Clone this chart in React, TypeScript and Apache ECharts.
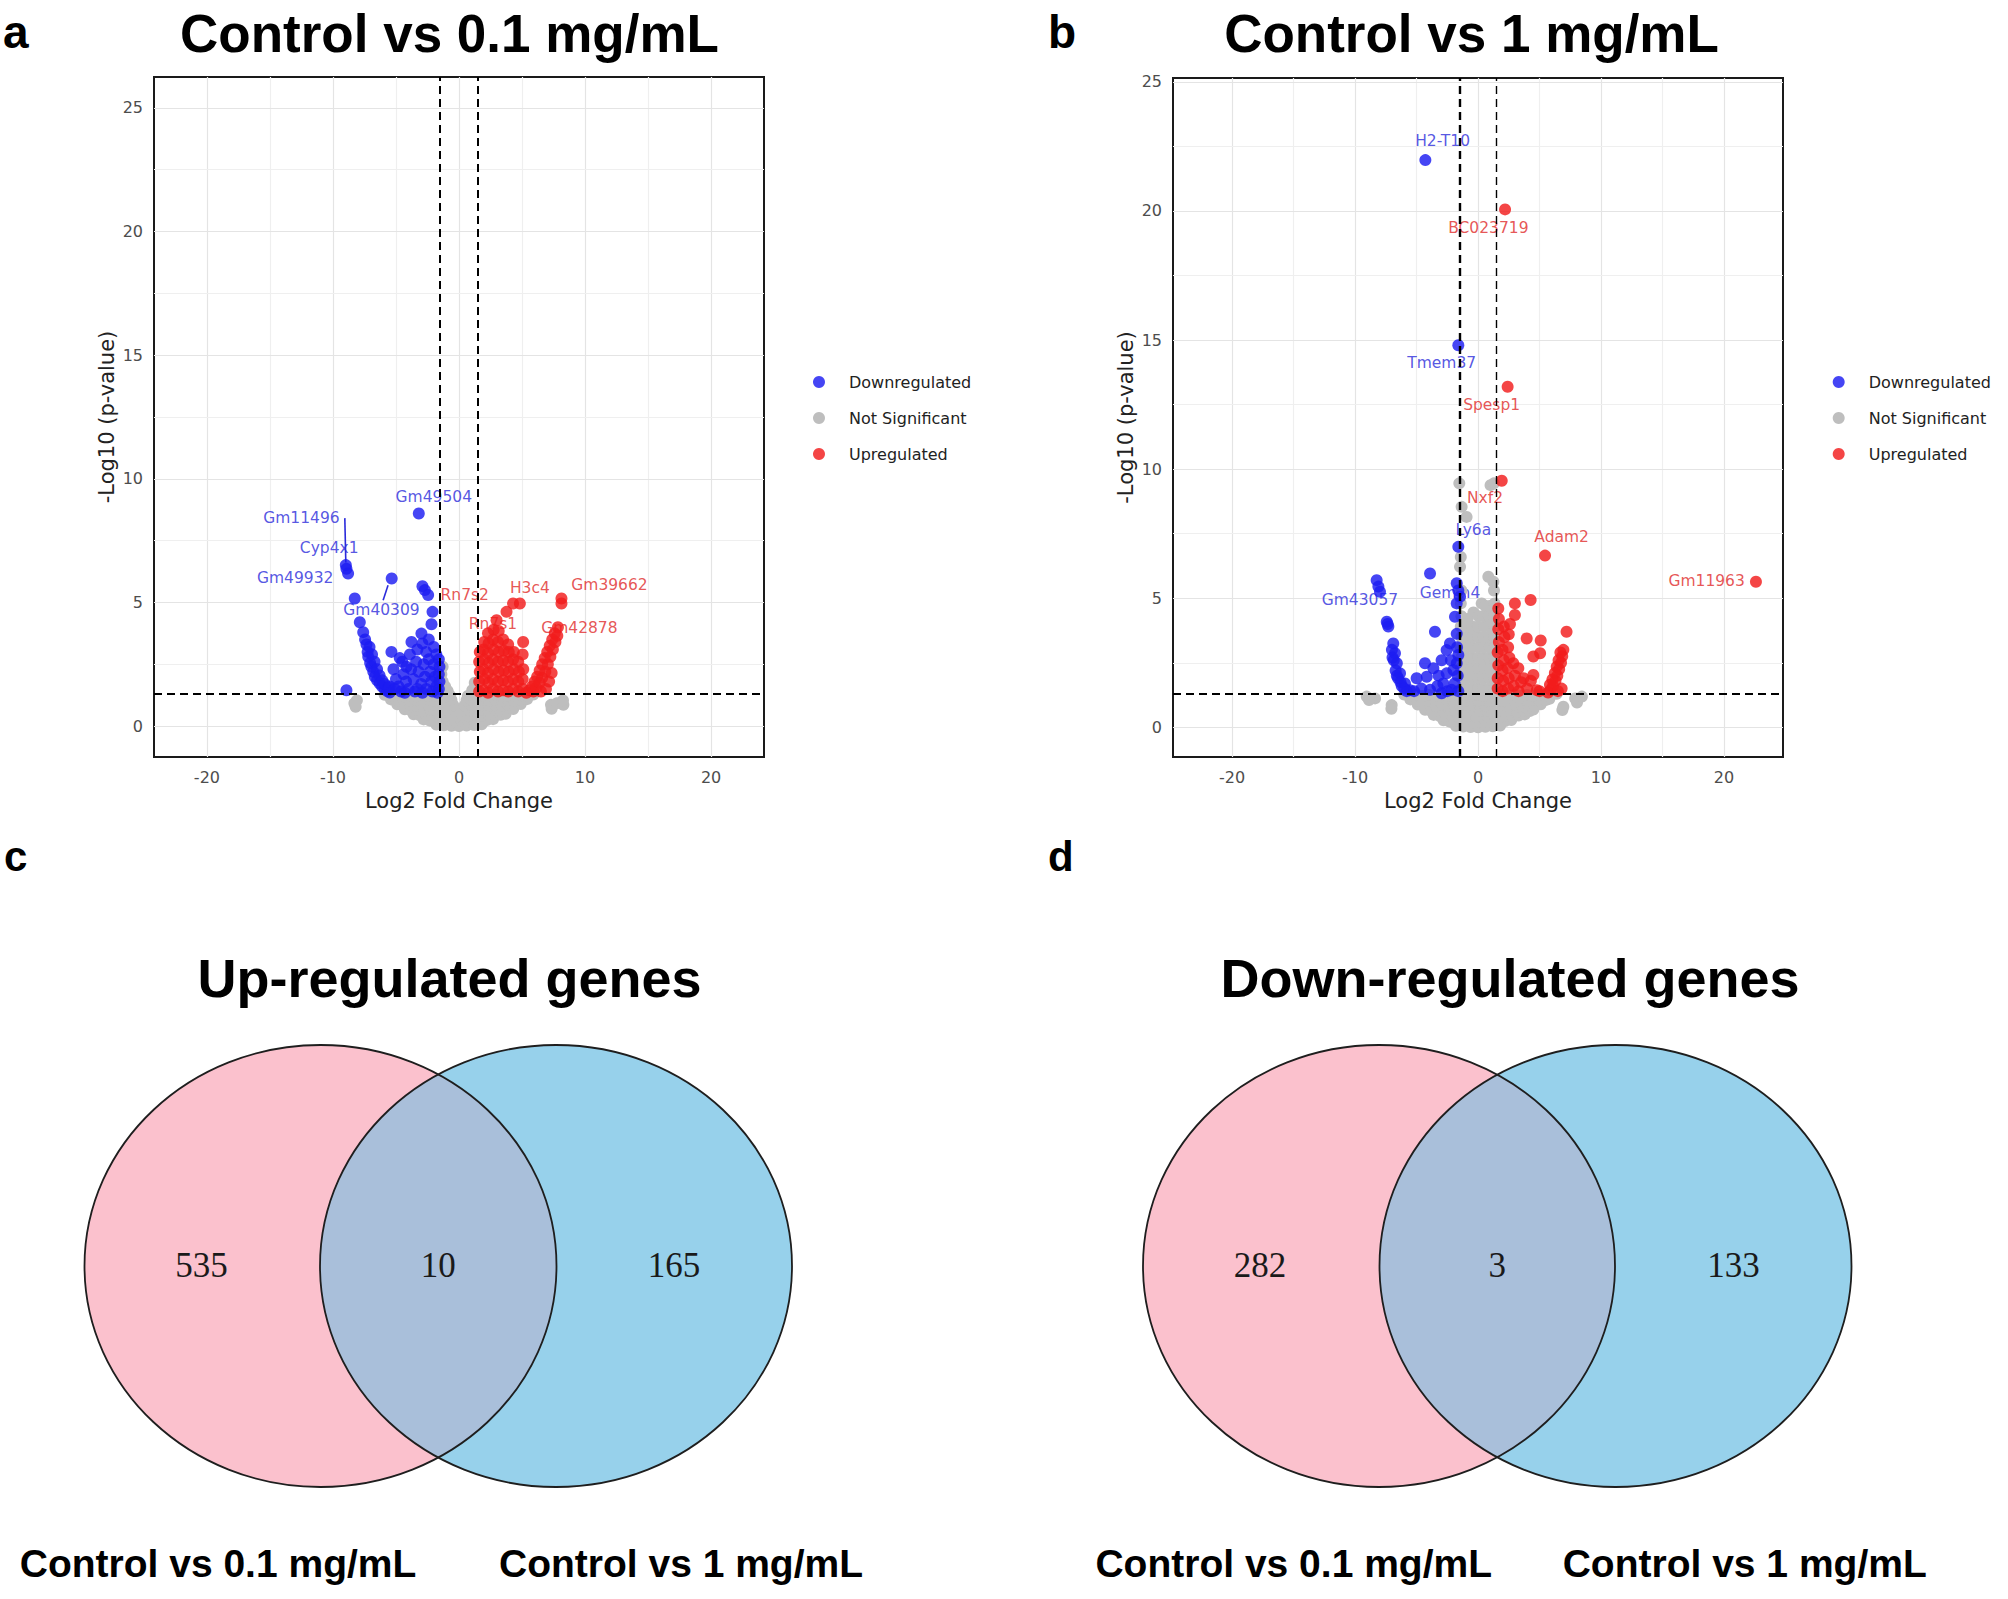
import React, { useEffect, useRef } from "react";
import * as echarts from "echarts";

const FONT = '"DejaVu Sans", sans-serif';
const BOLD = '"Liberation Sans", Arial, sans-serif';
const SERIF = '"Liberation Serif", "Times New Roman", serif';

// ---------- axes / thresholds ----------
const xTicks = [-20, -10, 0, 10, 20];
const yTicks = [0, 5, 10, 15, 20, 25];
const xGridLines = [-20, -15, -10, -5, 0, 5, 10, 15, 20];
const yGridLines = [0, 2.5, 5, 7.5, 10, 12.5, 15, 17.5, 20, 22.5, 25];
const fcCutoff = 1.5;
const pCutoff = 1.3;
const legendNames = ["Downregulated", "Not Significant", "Upregulated"];
const panelTitles = ["Control vs 0.1 mg/mL", "Control vs 1 mg/mL"];

// ---------- panel a : Control vs 0.1 mg/mL ----------
const down01 = [
  [-3.19, 8.6], [-8.98, 6.51], [-8.93, 6.36], [-8.8, 6.17], [-5.34, 5.97], [-8.27, 5.16],
  [-2.9, 5.66], [-2.71, 5.5], [-2.45, 5.3], [-2.1, 4.62], [-2.18, 4.12], [-8.93, 1.45],
  [-7.87, 4.2], [-7.6, 3.8], [-7.45, 3.5], [-7.34, 3.3], [-7.25, 3.0], [-7.2, 2.8], [-7.05, 2.55],
  [-6.95, 2.4], [-6.8, 2.2], [-6.68, 2.0], [-6.5, 1.85], [-6.29, 1.72], [-6.1, 1.6], [-5.89, 1.5],
  [-5.7, 1.42], [-5.5, 1.36], [-7.1, 3.2], [-6.9, 2.9], [-6.7, 2.6], [-6.5, 2.3], [-6.3, 2.05],
  [-6.1, 1.85], [-5.9, 1.7], [-5.6, 1.55],
  [-5.36, 3.0], [-4.7, 2.75], [-4.17, 2.4], [-3.77, 3.4], [-2.98, 3.74], [-2.9, 3.34], [-3.3, 3.1],
  [-2.6, 3.0], [-2.4, 3.5], [-2.0, 3.2], [-1.8, 2.9], [-1.6, 2.7], [-1.55, 2.4], [-1.6, 2.1],
  [-1.55, 1.8], [-1.6, 1.5], [-1.7, 1.35], [-5.2, 2.3], [-5.0, 1.9], [-4.8, 1.6], [-4.6, 1.4],
  [-4.4, 2.1], [-4.2, 1.8], [-4.0, 1.5], [-3.8, 2.3], [-3.6, 1.9], [-3.5, 1.4], [-3.4, 2.6],
  [-3.2, 2.2], [-3.0, 1.7], [-2.8, 2.5], [-2.7, 2.0], [-2.6, 1.5], [-2.4, 2.7], [-2.3, 2.2],
  [-2.2, 1.8], [-2.1, 1.4], [-2.0, 2.5], [-1.9, 2.0], [-1.8, 1.6], [-3.9, 2.9], [-4.5, 2.6],
  [-5.5, 1.6], [-5.1, 1.5], [-4.3, 1.35], [-3.3, 1.5], [-2.9, 1.35]
];
const ns01 = [
  [-1.8, 0.06], [-1.2, 0.03], [-0.6, 0.01], [0, 0], [0.6, 0.02], [1.2, 0.04], [1.8, 0.07],
  [-2.8, 0.27], [-2.3, 0.22], [-1.8, 0.25], [-1.3, 0.2], [-0.8, 0.24], [-0.3, 0.19], [0.2, 0.23],
  [0.7, 0.2], [1.2, 0.25], [1.7, 0.21], [2.2, 0.24], [2.7, 0.28],
  [-3.6, 0.48], [-3.1, 0.44], [-2.6, 0.47], [-2.1, 0.42], [-1.6, 0.46], [-1.1, 0.41], [-0.6, 0.45],
  [-0.15, 0.4], [0.3, 0.44], [0.8, 0.41], [1.3, 0.46], [1.8, 0.42], [2.3, 0.47], [2.8, 0.43],
  [3.3, 0.46], [3.7, 0.5],
  [-4.3, 0.68], [-3.8, 0.63], [-3.3, 0.66], [-2.8, 0.62], [-2.3, 0.67], [-1.8, 0.63], [-1.3, 0.66],
  [-0.8, 0.62], [-0.35, 0.65], [0.35, 0.64], [0.8, 0.67], [1.3, 0.62], [1.8, 0.66], [2.3, 0.63],
  [2.8, 0.67], [3.3, 0.62], [3.8, 0.66], [4.3, 0.69],
  [-4.9, 0.88], [-4.4, 0.83], [-3.9, 0.86], [-3.4, 0.82], [-2.9, 0.87], [-2.4, 0.83], [-1.9, 0.86],
  [-1.4, 0.82], [-0.9, 0.86], [-0.45, 0.84], [0.45, 0.83], [0.9, 0.87], [1.4, 0.82], [1.9, 0.86],
  [2.4, 0.83], [2.9, 0.87], [3.4, 0.82], [3.9, 0.86], [4.4, 0.84], [4.9, 0.89],
  [-5.4, 1.08], [-4.9, 1.03], [-4.4, 1.06], [-3.9, 1.02], [-3.4, 1.07], [-2.9, 1.03], [-2.4, 1.06],
  [-1.9, 1.02], [-1.4, 1.07], [-0.95, 1.03], [-0.6, 1.06], [0.6, 1.04], [0.95, 1.07], [1.4, 1.02],
  [1.9, 1.06], [2.4, 1.03], [2.9, 1.07], [3.4, 1.02], [3.9, 1.06], [4.4, 1.03], [4.9, 1.07], [5.4, 1.09],
  [-5.9, 1.27], [-5.4, 1.22], [-4.9, 1.26], [-4.4, 1.21], [-3.9, 1.25], [-3.4, 1.22], [-2.9, 1.26],
  [-2.4, 1.21], [-1.9, 1.25], [-1.4, 1.22], [-1.0, 1.26], [-0.7, 1.23], [0.7, 1.22], [1.0, 1.26],
  [1.4, 1.21], [1.9, 1.25], [2.4, 1.22], [2.9, 1.26], [3.4, 1.21], [3.9, 1.25], [4.4, 1.22],
  [4.9, 1.26], [5.4, 1.23], [5.9, 1.28],
  [-1.35, 1.5], [-1.3, 1.8], [-1.4, 2.1], [-1.3, 2.4], [-1.1, 1.6], [-0.9, 1.42], [1.35, 1.5],
  [1.25, 1.75], [1.05, 1.45],
  [-8.2, 0.78], [-8.1, 1.04], [-8.3, 0.92], [7.35, 0.7], [7.3, 0.86], [7.75, 0.92], [8.28, 0.86], [8.25, 1.04]
];
const up01 = [
  [4.29, 4.96], [4.83, 4.96], [3.77, 4.62], [2.98, 4.28], [8.13, 5.16], [8.13, 4.96], [5.09, 3.4],
  [1.6, 1.4], [1.6, 1.8], [1.65, 2.2], [1.6, 2.6], [1.65, 3.0],
  [1.95, 1.45], [2.0, 1.9], [1.95, 2.3], [2.0, 2.7], [1.95, 3.1], [2.0, 3.4],
  [2.3, 1.35], [2.35, 1.75], [2.3, 2.15], [2.35, 2.55], [2.3, 2.95], [2.35, 3.35], [2.3, 3.75],
  [2.7, 1.5], [2.7, 1.9], [2.75, 2.3], [2.7, 2.7], [2.75, 3.1], [2.7, 3.5], [2.75, 3.9],
  [3.1, 1.4], [3.1, 1.8], [3.15, 2.2], [3.1, 2.6], [3.15, 3.0], [3.1, 3.4], [3.15, 3.85],
  [3.5, 1.45], [3.5, 1.85], [3.55, 2.25], [3.5, 2.65], [3.55, 3.05], [3.5, 3.5],
  [3.9, 1.4], [3.9, 1.8], [3.95, 2.2], [3.9, 2.6], [3.95, 3.0], [3.9, 3.3],
  [4.3, 1.5], [4.3, 1.9], [4.35, 2.3], [4.3, 2.7], [4.35, 3.0],
  [4.7, 1.4], [4.7, 1.8], [4.75, 2.2], [4.7, 2.6],
  [5.05, 1.5], [5.05, 1.9], [5.1, 2.3], [5.05, 2.9],
  [5.35, 1.35], [5.6, 1.45], [5.8, 1.6], [6.0, 1.8], [6.2, 2.0], [6.4, 2.25], [6.6, 2.5], [6.8, 2.75],
  [7.0, 3.0], [7.2, 3.25], [7.4, 3.5], [7.6, 3.75], [7.85, 4.0], [5.9, 1.4], [6.15, 1.55], [6.4, 1.75],
  [6.6, 1.95], [6.85, 2.2], [7.05, 2.5], [7.25, 2.8], [7.45, 3.1], [7.65, 3.4], [7.8, 3.65],
  [6.9, 1.5], [7.15, 1.8], [7.35, 2.15], [6.5, 1.4]
];
const labelsDown01 = [
  [-2.0, 9.28, "Gm49504"], [-12.5, 8.4, "Gm11496"], [-10.3, 7.19, "Cyp4x1"],
  [-13.0, 5.97, "Gm49932"], [-6.15, 4.69, "Gm40309"]
];
const labelsUp01 = [
  [0.46, 5.3, "Rn7s2"], [5.62, 5.57, "H3c4"], [11.94, 5.72, "Gm39662"],
  [2.7, 4.12, "Rn7s1"], [9.55, 3.95, "Gm42878"]
];
const connectors01 = [
  [[-9.06, 8.41], [-8.98, 6.62]],
  [[-5.63, 5.7], [-6.02, 5.09]]
];

// ---------- panel b : Control vs 1 mg/mL ----------
const down1 = [
  [-4.28, 21.97], [-1.6, 14.8], [-1.6, 6.99], [-8.24, 5.7], [-8.1, 5.45], [-7.97, 5.25], [-3.9, 5.96],
  [-1.73, 5.58], [-1.6, 5.3], [-1.46, 5.06], [-1.73, 4.8], [-1.87, 4.28], [-3.5, 3.7], [-1.73, 3.62],
  [-7.42, 4.09], [-7.29, 3.9], [-7.35, 4.0],
  [-6.89, 3.25], [-6.75, 2.87], [-6.6, 2.48], [-6.34, 2.09], [-5.94, 1.7], [-5.53, 1.44], [-7.0, 3.0],
  [-6.85, 2.6], [-6.7, 2.2], [-6.5, 1.9], [-6.2, 1.6], [-5.8, 1.4], [-6.95, 2.7], [-6.6, 2.0],
  [-6.3, 1.75], [-6.0, 1.5],
  [-4.31, 2.48], [-3.63, 2.29], [-2.96, 2.6], [-2.55, 2.99], [-2.28, 3.25], [-2.0, 2.22], [-2.82, 1.7],
  [-4.17, 1.96], [-4.99, 1.9], [-2.96, 1.32], [-2.14, 1.45], [-1.73, 2.48], [-2.55, 2.09], [-4.6, 1.5],
  [-3.9, 1.45], [-3.3, 1.6], [-2.5, 1.4], [-1.9, 1.7], [-1.65, 2.0], [-1.6, 2.8], [-1.7, 3.1],
  [-2.2, 2.6], [-3.2, 2.0], [-5.2, 1.4], [-1.6, 1.4]
];
const ns1 = [
  [-1.8, 0.06], [-1.2, 0.03], [-0.6, 0.01], [0, 0], [0.6, 0.02], [1.2, 0.04], [1.8, 0.07],
  [-2.8, 0.27], [-2.3, 0.22], [-1.8, 0.25], [-1.3, 0.2], [-0.8, 0.24], [-0.3, 0.19], [0.2, 0.23],
  [0.7, 0.2], [1.2, 0.25], [1.7, 0.21], [2.2, 0.24], [2.7, 0.28],
  [-3.6, 0.48], [-3.1, 0.44], [-2.6, 0.47], [-2.1, 0.42], [-1.6, 0.46], [-1.1, 0.41], [-0.6, 0.45],
  [-0.15, 0.4], [0.3, 0.44], [0.8, 0.41], [1.3, 0.46], [1.8, 0.42], [2.3, 0.47], [2.8, 0.43],
  [3.3, 0.46], [3.8, 0.5],
  [-4.3, 0.68], [-3.8, 0.63], [-3.3, 0.66], [-2.8, 0.62], [-2.3, 0.67], [-1.8, 0.63], [-1.3, 0.66],
  [-0.8, 0.62], [-0.3, 0.65], [0.2, 0.63], [0.7, 0.66], [1.2, 0.62], [1.7, 0.66], [2.2, 0.63],
  [2.7, 0.67], [3.2, 0.62], [3.7, 0.66], [4.2, 0.63], [4.5, 0.69],
  [-4.9, 0.88], [-4.4, 0.83], [-3.9, 0.86], [-3.4, 0.82], [-2.9, 0.87], [-2.4, 0.83], [-1.9, 0.86],
  [-1.4, 0.82], [-0.9, 0.86], [-0.4, 0.84], [0.1, 0.87], [0.6, 0.83], [1.1, 0.86], [1.6, 0.82],
  [2.1, 0.87], [2.6, 0.83], [3.1, 0.86], [3.6, 0.82], [4.1, 0.87], [4.6, 0.83], [5.1, 0.89],
  [-5.5, 1.08], [-5.0, 1.03], [-4.5, 1.06], [-4.0, 1.02], [-3.5, 1.07], [-3.0, 1.03], [-2.5, 1.06],
  [-2.0, 1.02], [-1.5, 1.07], [-1.0, 1.03], [-0.5, 1.06], [0, 1.04], [0.5, 1.07], [1.0, 1.02],
  [1.5, 1.06], [2.0, 1.03], [2.5, 1.07], [3.0, 1.02], [3.5, 1.06], [4.0, 1.03], [4.5, 1.07],
  [5.0, 1.04], [5.5, 1.06], [5.8, 1.1],
  [-6.0, 1.27], [-5.5, 1.22], [-5.0, 1.26], [-4.5, 1.21], [-4.0, 1.25], [-3.5, 1.22], [-3.0, 1.26],
  [-2.5, 1.21], [-2.0, 1.25], [-1.5, 1.22], [-1.0, 1.26], [-0.5, 1.23], [0, 1.25], [0.5, 1.22],
  [1.0, 1.26], [1.5, 1.21], [2.0, 1.25], [2.5, 1.22], [3.0, 1.26], [3.5, 1.21], [4.0, 1.25],
  [4.5, 1.22], [5.0, 1.26], [5.5, 1.23], [6.0, 1.27], [6.4, 1.3],
  [-1.35, 1.5], [-1.35, 1.9], [-1.4, 2.3], [-1.35, 2.7], [-1.4, 3.1], [-1.35, 3.5], [-1.4, 3.9],
  [-1.35, 4.3], [-1.4, 4.8], [-1.35, 5.3], [-1.46, 6.22], [-1.4, 6.6], [-1.33, 8.54], [-0.93, 8.15],
  [-1.52, 9.45],
  [-0.9, 1.5], [-0.9, 1.9], [-0.95, 2.3], [-0.9, 2.7], [-0.95, 3.1], [-0.9, 3.5], [-0.9, 3.9], [-0.85, 4.2],
  [-0.45, 1.5], [-0.45, 1.9], [-0.5, 2.3], [-0.45, 2.7], [-0.5, 3.1], [-0.45, 3.5], [-0.45, 3.9], [-0.37, 4.45],
  [0, 1.5], [0, 1.9], [0.05, 2.3], [0, 2.7], [0.05, 3.1], [0, 3.5], [0, 3.9], [0.05, 4.3], [0.3, 4.8],
  [0.45, 1.5], [0.45, 1.9], [0.5, 2.3], [0.45, 2.7], [0.5, 3.1], [0.45, 3.5], [0.5, 3.9], [0.45, 4.3], [0.6, 4.7],
  [0.9, 1.5], [0.9, 1.9], [0.95, 2.3], [0.9, 2.7], [0.95, 3.1], [0.9, 3.5], [0.95, 3.9], [0.9, 4.3],
  [0.95, 4.7], [0.84, 5.83],
  [1.3, 1.5], [1.3, 1.9], [1.35, 2.3], [1.3, 2.7], [1.35, 3.1], [1.3, 3.5], [1.35, 3.9], [1.3, 4.3],
  [1.35, 4.8], [1.3, 5.3], [1.25, 5.64], [1.02, 9.38], [1.29, 9.45],
  [-9.05, 1.19], [-8.37, 1.12], [-8.86, 1.06], [-7.02, 0.86], [-7.04, 0.72], [6.86, 0.67], [6.94, 0.8],
  [7.9, 1.12], [8.05, 0.96], [8.45, 1.19]
];
const up1 = [
  [2.2, 20.06], [2.41, 13.19], [1.93, 9.55], [5.45, 6.65], [22.6, 5.64],
  [3.0, 4.8], [4.28, 4.93], [3.0, 4.35], [7.2, 3.7], [3.96, 3.44], [5.1, 3.36], [5.05, 2.87], [4.5, 2.74],
  [3.28, 2.29], [3.7, 1.9], [4.5, 2.03], [2.87, 2.48], [4.78, 1.44],
  [1.6, 1.5], [1.6, 1.9], [1.65, 2.4], [1.6, 2.9], [1.7, 3.3], [1.65, 3.8], [1.7, 4.2], [2.0, 1.4],
  [2.05, 1.8], [2.0, 2.2], [2.1, 2.6], [2.0, 3.0], [2.15, 3.5], [2.1, 3.9], [2.45, 1.5], [2.5, 1.9],
  [2.4, 2.3], [2.55, 2.7], [2.45, 3.1], [2.5, 3.6], [2.9, 1.6], [3.0, 2.0], [3.3, 1.4], [3.5, 1.75],
  [4.0, 1.5], [4.3, 1.8], [5.0, 1.4], [2.6, 4.0], [1.65, 4.6],
  [6.94, 3.0], [6.85, 2.75], [6.75, 2.5], [6.6, 2.25], [6.45, 2.0], [6.3, 1.8], [6.1, 1.6], [5.9, 1.45],
  [5.7, 1.35], [6.7, 2.9], [6.55, 2.6], [6.4, 2.35], [6.25, 2.1], [6.05, 1.85], [5.85, 1.65],
  [6.8, 1.5], [6.5, 1.4]
];
const labelsDown1 = [
  [-2.88, 22.7, "H2-T10"], [-2.95, 14.1, "Tmem37"], [-0.38, 7.64, "Ly6a"],
  [-9.6, 4.93, "Gm43057"], [-2.28, 5.19, "Gemin4"]
];
const labelsUp1 = [
  [0.84, 19.33, "BC023719"], [1.11, 12.48, "Spesp1"], [0.57, 8.87, "Nxf2"],
  [6.8, 7.36, "Adam2"], [18.59, 5.68, "Gm11963"]
];
const connectors1: number[][][] = [];

// ---------- Venn panels ----------
const vennSetNames = ["Control vs 0.1 mg/mL", "Control vs 1 mg/mL"];
const vennTitles = ["Up-regulated genes", "Down-regulated genes"];
const vennUpCounts = [535, 10, 165]; // only 0.1, both, only 1
const vennDownCounts = [282, 3, 133];

const BLUE = "#1C1CF2";
const RED = "#F21C1C";
const GREY = "#BEBEBE";
const BLUE_TXT = "#2B2BDB";
const RED_TXT = "#E02A2A";
const PT = 12;

function volcanoSeries(idx: number, down: number[][], ns: number[][], up: number[][],
  labDown: any[], labUp: any[], connectors: number[][][], cutWidths: number[]) {
  const ax = { xAxisIndex: idx, yAxisIndex: idx };
  const gridLineData = [
    ...xGridLines.map((v) => ({ xAxis: v, lineStyle: { color: v % 10 === 0 ? "#E4E4E4" : "#EFEFEF", width: 1.2, type: "solid" } })),
    ...yGridLines.map((v) => ({ yAxis: v, lineStyle: { color: v % 5 === 0 ? "#E4E4E4" : "#EFEFEF", width: 1.2, type: "solid" } })),
  ];
  const labelData = [
    ...labDown.map((d) => ({ value: [d[0], d[1]], name: d[2], label: { color: BLUE_TXT } })),
    ...labUp.map((d) => ({ value: [d[0], d[1]], name: d[2], label: { color: RED_TXT } })),
  ];
  const s: any[] = [
    {
      ...ax, type: "scatter", name: "geneLabels" + idx, z: 2, symbolSize: 1, silent: true,
      itemStyle: { color: "rgba(0,0,0,0)" },
      label: { show: true, position: "inside", formatter: "{b}", fontSize: 15.5, fontFamily: FONT },
      emphasis: { disabled: true },
      data: labelData,
      markLine: {
        z: 1, silent: true, symbol: ["none", "none"], label: { show: false }, animation: false,
        emphasis: { disabled: true }, data: gridLineData,
      },
    },
    {
      ...ax, type: "scatter", name: legendNames[1], z: 3, symbolSize: PT,
      itemStyle: { color: GREY, opacity: 1 }, emphasis: { disabled: true }, data: ns,
    },
    {
      ...ax, type: "scatter", name: legendNames[0], z: 4, symbolSize: PT,
      itemStyle: { color: BLUE, opacity: 0.82 }, emphasis: { disabled: true }, data: down,
    },
    {
      ...ax, type: "scatter", name: legendNames[2], z: 5, symbolSize: PT,
      itemStyle: { color: RED, opacity: 0.82 }, emphasis: { disabled: true }, data: up,
      markLine: {
        z: 6, silent: true, symbol: ["none", "none"], label: { show: false }, animation: false,
        emphasis: { disabled: true },
        lineStyle: { color: "#000", width: 2, type: [8, 5] },
        data: [
          { xAxis: -fcCutoff, lineStyle: { width: cutWidths[0] } },
          { xAxis: fcCutoff, lineStyle: { width: cutWidths[1] } },
          { yAxis: pCutoff, lineStyle: { width: 2 } },
        ],
      },
    },
  ];
  if (connectors.length) {
    s.push({
      ...ax, type: "lines", coordinateSystem: "cartesian2d", z: 4, silent: true,
      lineStyle: { color: BLUE_TXT, width: 1.6, opacity: 1 },
      data: connectors.map((c) => ({ coords: c })),
    });
  }
  return s;
}

function txt(x: number, y: number, text: string, font: string, fill = "#000", align = "center") {
  return {
    type: "text", x, y, silent: true,
    style: { text, font, fill, align, textAlign: align, verticalAlign: "middle", textVerticalAlign: "middle" },
  };
}

function venn(cx1: number, cx2: number, cy: number, rx: number, ry: number, counts: number[],
  title: string, titleX: number, nameX: number[]) {
  const mid = (cx1 + cx2) / 2;
  const t0 = Math.acos((mid - cx1) / rx);
  const pts: number[][] = [];
  const N = 80;
  for (let i = 0; i <= N; i++) {
    const t = -t0 + (2 * t0 * i) / N;
    pts.push([cx1 + rx * Math.cos(t), cy + ry * Math.sin(t)]);
  }
  for (let i = 0; i <= N; i++) {
    const t = Math.PI - t0 + (2 * t0 * i) / N;
    pts.push([cx2 + rx * Math.cos(t), cy + ry * Math.sin(t)]);
  }
  const numFont = `35px ${SERIF}`;
  return [
    { type: "ellipse", silent: true, shape: { cx: cx1, cy, rx, ry }, style: { fill: "#FBC1CD" } },
    { type: "ellipse", silent: true, shape: { cx: cx2, cy, rx, ry }, style: { fill: "#97D1EB" } },
    { type: "polygon", silent: true, shape: { points: pts }, style: { fill: "#A9BFDA" } },
    { type: "ellipse", silent: true, shape: { cx: cx1, cy, rx, ry }, style: { fill: "none", stroke: "#1E1E1E", lineWidth: 1.8 } },
    { type: "ellipse", silent: true, shape: { cx: cx2, cy, rx, ry }, style: { fill: "none", stroke: "#1E1E1E", lineWidth: 1.8 } },
    txt(cx1 - 119, 1265, String(counts[0]), numFont, "#1A1A1A"),
    txt(mid, 1265, String(counts[1]), numFont, "#1A1A1A"),
    txt(cx2 + 118, 1265, String(counts[2]), numFont, "#1A1A1A"),
    txt(titleX, 978, title, `bold 54px ${BOLD}`),
    txt(nameX[0], 1563, vennSetNames[0], `bold 39px ${BOLD}`),
    txt(nameX[1], 1563, vennSetNames[1], `bold 39px ${BOLD}`),
  ];
}

function xAxisFor(idx: number, xr: number) {
  return {
    gridIndex: idx, type: "value", min: -xr, max: xr,
    axisLine: { show: false }, axisTick: { show: false }, splitLine: { show: false },
    axisLabel: { customValues: xTicks, color: "#4D4D4D", fontSize: 16, fontFamily: FONT, margin: 12 },
    name: "Log2 Fold Change", nameLocation: "middle", nameGap: 33,
    nameTextStyle: { fontSize: 21, color: "#222", fontFamily: FONT },
  };
}

function yAxisFor(idx: number, min: number, max: number) {
  return {
    gridIndex: idx, type: "value", min, max,
    axisLine: { show: false }, axisTick: { show: false }, splitLine: { show: false },
    axisLabel: { customValues: yTicks, color: "#4D4D4D", fontSize: 16, fontFamily: FONT, margin: 11 },
    name: "-Log10 (p-value)", nameLocation: "middle", nameGap: 37,
    nameTextStyle: { fontSize: 21, color: "#222", fontFamily: FONT },
  };
}

function legendFor(dotX: number) {
  return {
    data: legendNames, orient: "vertical", left: dotX - 10, top: 369, itemWidth: 12, itemHeight: 12,
    itemGap: 20, icon: "circle", selectedMode: false,
    textStyle: { fontSize: 16, color: "#222", fontFamily: FONT, padding: [0, 0, 0, 19] },
  };
}

export default function App() {
  const ref = useRef<HTMLDivElement>(null);
  useEffect(() => {
    if (!ref.current) return;
    const chart = echarts.init(ref.current, undefined, { renderer: "svg" });
    const option: any = {
      animation: false,
      backgroundColor: "#fff",
      grid: [
        { left: 154, top: 77, width: 610, height: 680, show: true, borderColor: "#1A1A1A", borderWidth: 2, backgroundColor: "transparent" },
        { left: 1173, top: 78, width: 610, height: 679, show: true, borderColor: "#1A1A1A", borderWidth: 2, backgroundColor: "transparent" },
      ],
      xAxis: [xAxisFor(0, 24.2), xAxisFor(1, 24.8)],
      yAxis: [yAxisFor(0, -1.25, 26.25), yAxisFor(1, -1.15, 25.15)],
      legend: [legendFor(818), legendFor(1837.7)],
      series: [
        ...volcanoSeries(0, down01, ns01, up01, labelsDown01, labelsUp01, connectors01, [2, 2]),
        ...volcanoSeries(1, down1, ns1, up1, labelsDown1, labelsUp1, connectors1, [2.4, 1.4]),
      ],
      graphic: {
        elements: [
          txt(3, 32, "a", `bold 46px ${BOLD}`, "#000", "left"),
          txt(1048, 32, "b", `bold 46px ${BOLD}`, "#000", "left"),
          txt(4, 856, "c", `bold 42px ${BOLD}`, "#000", "left"),
          txt(1048, 856, "d", `bold 42px ${BOLD}`, "#000", "left"),
          txt(449.5, 33, panelTitles[0], `bold 53px ${BOLD}`),
          txt(1471.5, 33, panelTitles[1], `bold 53px ${BOLD}`),
          ...venn(320.5, 556, 1266, 236, 221, vennUpCounts, vennTitles[0], 449.6, [218, 681]),
          ...venn(1379, 1615.5, 1266, 236, 221, vennDownCounts, vennTitles[1], 1510, [1293.7, 1744.7]),
        ],
      },
    };
    chart.setOption(option);
    return () => chart.dispose();
  }, []);
  return (
    <div
      ref={ref}
      style={{ position: "absolute", left: 0, top: 0, width: 2008, height: 1599, background: "#fff" }}
    />
  );
}
